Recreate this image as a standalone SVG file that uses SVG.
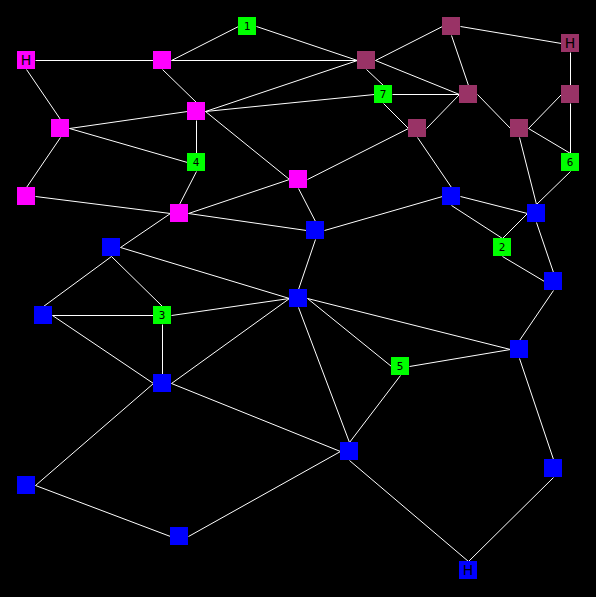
<svg xmlns="http://www.w3.org/2000/svg" width="596" height="597" viewBox="0 0 596 597">
<style>
.e{stroke:#fff;stroke-width:1;fill:none}
.m{fill:#ff00ff}.p{fill:#993366}.g{fill:#00ff00}.b{fill:#0000ff}
.h{font-family:"DejaVu Sans",sans-serif;font-size:14px;fill:#000;text-anchor:middle}
.d{font-family:"DejaVu Sans Mono",monospace;font-size:11px;fill:#000;text-anchor:middle}
</style>
<rect width="596" height="597" fill="#000"/>
<g id="connectors" class="e" transform="translate(0.5,0.5)">
<line x1="35" y1="60" x2="153" y2="60"/>
<line x1="171" y1="60" x2="357" y2="60"/>
<line x1="171" y1="60" x2="238" y2="26"/>
<line x1="162" y1="69" x2="196" y2="102"/>
<line x1="26" y1="69" x2="60" y2="119"/>
<line x1="60" y1="137" x2="26" y2="187"/>
<line x1="69" y1="128" x2="187" y2="111"/>
<line x1="69" y1="128" x2="187" y2="162"/>
<line x1="196" y1="120" x2="196" y2="153"/>
<line x1="205" y1="111" x2="289" y2="179"/>
<line x1="205" y1="111" x2="357" y2="60"/>
<line x1="205" y1="111" x2="374" y2="94"/>
<line x1="256" y1="26" x2="357" y2="60"/>
<line x1="375" y1="60" x2="442" y2="26"/>
<line x1="375" y1="60" x2="459" y2="94"/>
<line x1="366" y1="69" x2="383" y2="85"/>
<line x1="460" y1="26" x2="561" y2="43"/>
<line x1="451" y1="35" x2="468" y2="85"/>
<line x1="570" y1="52" x2="570" y2="85"/>
<line x1="392" y1="94" x2="459" y2="94"/>
<line x1="383" y1="103" x2="408" y2="128"/>
<line x1="426" y1="128" x2="459" y2="94"/>
<line x1="477" y1="94" x2="510" y2="128"/>
<line x1="528" y1="128" x2="561" y2="94"/>
<line x1="528" y1="128" x2="570" y2="153"/>
<line x1="570" y1="103" x2="570" y2="153"/>
<line x1="519" y1="137" x2="536" y2="204"/>
<line x1="570" y1="171" x2="536" y2="204"/>
<line x1="408" y1="128" x2="307" y2="179"/>
<line x1="417" y1="137" x2="451" y2="187"/>
<line x1="460" y1="196" x2="527" y2="213"/>
<line x1="442" y1="196" x2="324" y2="230"/>
<line x1="451" y1="205" x2="502" y2="238"/>
<line x1="502" y1="238" x2="527" y2="213"/>
<line x1="502" y1="256" x2="544" y2="281"/>
<line x1="536" y1="222" x2="553" y2="272"/>
<line x1="553" y1="290" x2="519" y2="340"/>
<line x1="35" y1="196" x2="170" y2="213"/>
<line x1="188" y1="213" x2="289" y2="179"/>
<line x1="179" y1="204" x2="196" y2="171"/>
<line x1="188" y1="213" x2="306" y2="230"/>
<line x1="170" y1="213" x2="120" y2="247"/>
<line x1="298" y1="188" x2="315" y2="221"/>
<line x1="315" y1="239" x2="298" y2="289"/>
<line x1="111" y1="256" x2="43" y2="306"/>
<line x1="111" y1="256" x2="162" y2="306"/>
<line x1="120" y1="247" x2="289" y2="298"/>
<line x1="52" y1="315" x2="153" y2="315"/>
<line x1="52" y1="315" x2="153" y2="383"/>
<line x1="171" y1="315" x2="289" y2="298"/>
<line x1="162" y1="324" x2="162" y2="374"/>
<line x1="171" y1="383" x2="289" y2="298"/>
<line x1="153" y1="383" x2="35" y2="485"/>
<line x1="171" y1="383" x2="340" y2="451"/>
<line x1="307" y1="298" x2="391" y2="366"/>
<line x1="307" y1="298" x2="510" y2="349"/>
<line x1="298" y1="307" x2="349" y2="442"/>
<line x1="409" y1="366" x2="510" y2="349"/>
<line x1="400" y1="375" x2="349" y2="442"/>
<line x1="519" y1="358" x2="553" y2="459"/>
<line x1="553" y1="477" x2="468" y2="561"/>
<line x1="349" y1="460" x2="468" y2="561"/>
<line x1="340" y1="451" x2="188" y2="536"/>
<line x1="35" y1="485" x2="170" y2="536"/>
</g>
<g id="n1"><rect class="m" x="17" y="51" width="18" height="18"/><text class="h" x="26" y="65">H</text></g>
<g id="n2"><rect class="m" x="153" y="51" width="18" height="18"/></g>
<g id="n3"><rect class="g" x="238" y="17" width="18" height="18"/><text class="d" x="247" y="30">1</text></g>
<g id="n4"><rect class="p" x="357" y="51" width="18" height="18"/></g>
<g id="n5"><rect class="p" x="442" y="17" width="18" height="18"/></g>
<g id="n6"><rect class="p" x="561" y="34" width="18" height="18"/><text class="h" x="570" y="48">H</text></g>
<g id="n7"><rect class="m" x="187" y="102" width="18" height="18"/></g>
<g id="n8"><rect class="g" x="374" y="85" width="18" height="18"/><text class="d" x="383" y="98">7</text></g>
<g id="n9"><rect class="p" x="459" y="85" width="18" height="18"/></g>
<g id="n10"><rect class="p" x="561" y="85" width="18" height="18"/></g>
<g id="n11"><rect class="m" x="51" y="119" width="18" height="18"/></g>
<g id="n12"><rect class="p" x="408" y="119" width="18" height="18"/></g>
<g id="n13"><rect class="p" x="510" y="119" width="18" height="18"/></g>
<g id="n14"><rect class="g" x="187" y="153" width="18" height="18"/><text class="d" x="196" y="166">4</text></g>
<g id="n15"><rect class="g" x="561" y="153" width="18" height="18"/><text class="d" x="570" y="166">6</text></g>
<g id="n16"><rect class="m" x="289" y="170" width="18" height="18"/></g>
<g id="n17"><rect class="m" x="17" y="187" width="18" height="18"/></g>
<g id="n18"><rect class="b" x="442" y="187" width="18" height="18"/></g>
<g id="n19"><rect class="m" x="170" y="204" width="18" height="18"/></g>
<g id="n20"><rect class="b" x="527" y="204" width="18" height="18"/></g>
<g id="n21"><rect class="b" x="306" y="221" width="18" height="18"/></g>
<g id="n22"><rect class="b" x="102" y="238" width="18" height="18"/></g>
<g id="n23"><rect class="g" x="493" y="238" width="18" height="18"/><text class="d" x="502" y="251">2</text></g>
<g id="n24"><rect class="b" x="544" y="272" width="18" height="18"/></g>
<g id="n25"><rect class="b" x="289" y="289" width="18" height="18"/></g>
<g id="n26"><rect class="b" x="34" y="306" width="18" height="18"/></g>
<g id="n27"><rect class="g" x="153" y="306" width="18" height="18"/><text class="d" x="162" y="319">3</text></g>
<g id="n28"><rect class="b" x="510" y="340" width="18" height="18"/></g>
<g id="n29"><rect class="g" x="391" y="357" width="18" height="18"/><text class="d" x="400" y="370">5</text></g>
<g id="n30"><rect class="b" x="153" y="374" width="18" height="18"/></g>
<g id="n31"><rect class="b" x="340" y="442" width="18" height="18"/></g>
<g id="n32"><rect class="b" x="544" y="459" width="18" height="18"/></g>
<g id="n33"><rect class="b" x="17" y="476" width="18" height="18"/></g>
<g id="n34"><rect class="b" x="170" y="527" width="18" height="18"/></g>
<g id="n35"><rect class="b" x="459" y="561" width="18" height="18"/><text class="h" x="468" y="575">H</text></g>
</svg>
